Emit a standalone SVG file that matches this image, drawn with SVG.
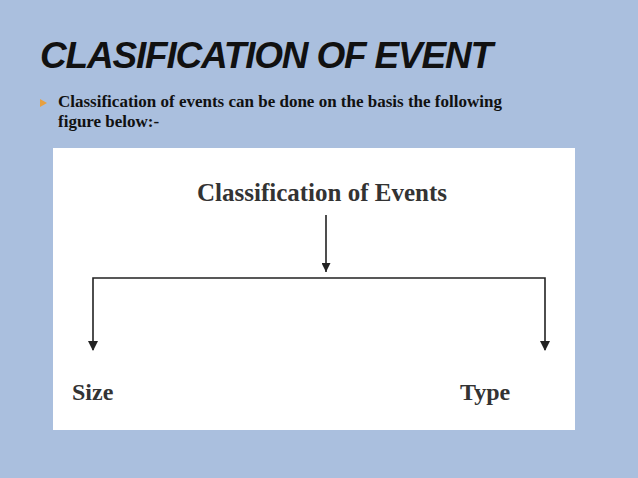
<svg xmlns="http://www.w3.org/2000/svg" width="638" height="478" viewBox="0 0 638 478">
<style>
.t{font-family:"Liberation Serif",serif;font-weight:bold;fill:#333}
.h{font-family:"Liberation Serif",serif;font-weight:bold;fill:#111}
.ln{stroke:#222;stroke-width:1.6;fill:none}
</style>
<defs><marker id="ad" viewBox="0 0 10 10" markerWidth="9" markerHeight="11" refX="5" refY="10" markerUnits="userSpaceOnUse"><path d="M0,0 L10,0 L5,10 Z" fill="#222"/></marker></defs>
<rect width="638" height="478" fill="#aabfde"/>
<text x="40" y="68" font-family="Liberation Sans,sans-serif" font-weight="bold" font-style="italic" font-size="37" fill="#111" letter-spacing="-1.2">CLASIFICATION OF EVENT</text>
<path d="M40,99 L47,103 L40,107 Z" fill="#e8a040"/>
<text class="h" font-size="17" x="58" y="107">Classification of events can be done on the basis the following</text>
<text class="h" font-size="17" x="58" y="127">figure below:-</text>
<rect x="53" y="148" width="522" height="282" fill="#fff"/>
<g id="n1"><text class="t" x="322" y="201" font-size="25" text-anchor="middle">Classification of Events</text></g>
<g id="n2"><text class="t" x="72" y="400" font-size="24">Size</text></g>
<g id="n3"><text class="t" x="460" y="400" font-size="24">Type</text></g>
<g id="edges">
<line class="ln" x1="326" y1="215" x2="326" y2="272" marker-end="url(#ad)"/>
<polyline class="ln" points="93,350 93,278 545,278 545,350" />
<path d="M88,341 L98,341 L93,351 Z" fill="#222"/>
<path d="M540,341 L550,341 L545,351 Z" fill="#222"/>
</g>
</svg>
